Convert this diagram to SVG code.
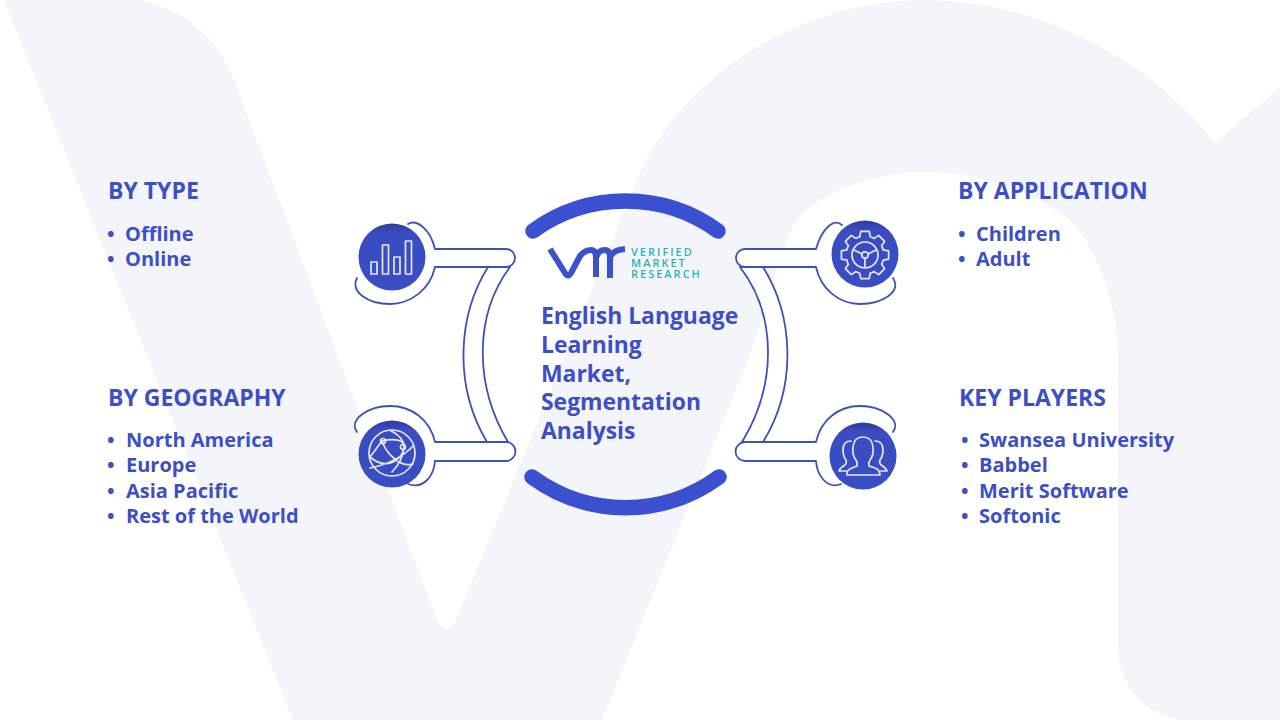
<svg xmlns="http://www.w3.org/2000/svg" width="1280" height="720" viewBox="0 0 1280 720">
<style>
text{font-family:"Open Sans","Noto Sans","Liberation Sans",sans-serif;fill:#3d4fc4;font-weight:700}
.h{font-size:23px}
.i{font-size:20px}
.t{font-size:22.9px}
.l{font-size:11px;fill:#27b5b8;font-weight:600;letter-spacing:2px}
.o{fill:#fff;stroke:#3f51b5;stroke-width:1.8;stroke-linejoin:round;stroke-linecap:round}
.ic{fill:none;stroke:#e4e8f9;stroke-width:1.7;stroke-linejoin:round;stroke-linecap:round}
.arc{fill:none;stroke:#3a50d0;stroke-width:15.5;stroke-linecap:round}
</style>
<defs>
<linearGradient id="dg" x1="0" y1="0" x2="0" y2="1"><stop offset="0" stop-color="#2c3aa0"/><stop offset=".14" stop-color="#3a4cc0"/><stop offset="1" stop-color="#3b4dc4"/></linearGradient>
<path id="tooth" d="M-5.2-18.3L-4.2-23.6H4.2L5.2-18.3A19 19 0 0 1 9.2-16.6"/>
</defs>
<path id="watermark" fill="#f4f5fb" d="M4 0H139C185 8 218 40 233 77L437 620Q447 636 456 620L640 173C690 65 810 0 925 0C1040 0 1150 60 1215 143L1280 87V720H1180C1145 715 1118 685 1118 647V360C1118 300 1095 245 1069 220C1030 188 975 172 926 172C880 172 830 188 803 213C780 235 765 318 748 360L602 720H293Z"/>
<g id="connectors">
<path class="o" d="M488 267C458 315 453 385 487 442H508C474 385 474 315 510 267Z"/>
<path class="o" d="M763 267C793 315 798 385 763 442H742C777 385 777 315 740 267Z"/>
</g>
<g id="node-type">
<path class="o" d="M408 224C416 219 430 228 435 249H506A9 9 0 0 1 506 267H435C430 290 410 304 390 304C368 304 350 292 357 278"/>
<circle cx="392" cy="257" r="33.5" fill="url(#dg)"/>
<g class="ic"><rect x="371" y="262" width="6" height="12"/><rect x="382.500" y="245" width="6" height="29"/><rect x="394" y="257" width="6" height="17"/><rect x="405.500" y="241" width="6" height="33"/></g>
<text class="h" x="108" y="199">BY TYPE</text>
<text class="i" x="107" y="241">•</text><text class="i" x="125" y="241">Offline</text>
<text class="i" x="107" y="266">•</text><text class="i" x="125" y="266">Online</text>
</g>
<g id="node-geography">
<path class="o" d="M357 432C348 420 368 406 390 406C412 406 430 420 435 442H506A9.500 9.500 0 0 1 506 461H435C434 475 424 490 408 484"/>
<circle cx="392" cy="454" r="33.5" fill="url(#dg)"/>
<g class="ic"><circle cx="392" cy="453" r="23"/><path d="M382 441L370 457M382 441C395 438 405 440 404 447C402 462 385 470 370 457M382 441C386 453 400 468 413 464M391 431C402 436 405 445 404 447C403 458 398 466 392 472M370 468C385 465 400 460 413 446"/><circle cx="383" cy="441" r="2.500"/><circle cx="403" cy="447" r="2.500"/></g>
<text class="h" x="108" y="406">BY GEOGRAPHY</text>
<text class="i" x="107" y="447">•</text><text class="i" x="126" y="447">North America</text>
<text class="i" x="107" y="472">•</text><text class="i" x="126" y="472">Europe</text>
<text class="i" x="107" y="498">•</text><text class="i" x="126" y="498">Asia Pacific</text>
<text class="i" x="107" y="523">•</text><text class="i" x="126" y="523">Rest of the World</text>
</g>
<g id="node-application">
<path class="o" d="M842 225C834 218 822 228 816 249H745A9 9 0 0 0 745 267H816C821 290 840 304 860 304C882 304 902 292 893 278"/>
<circle cx="865" cy="254" r="33.5" fill="url(#dg)"/>
<g class="ic" transform="translate(865 255)">
<use href="#tooth"/><use href="#tooth" transform="rotate(45)"/><use href="#tooth" transform="rotate(90)"/><use href="#tooth" transform="rotate(135)"/><use href="#tooth" transform="rotate(180)"/><use href="#tooth" transform="rotate(225)"/><use href="#tooth" transform="rotate(270)"/><use href="#tooth" transform="rotate(315)"/>
<circle r="13"/><path d="M-11-5L-3-1M11-5L3-1M0 3.500V12"/><circle r="3.200"/>
</g>
<text class="h" x="958" y="199">BY APPLICATION</text>
<text class="i" x="958" y="241">•</text><text class="i" x="976" y="241">Children</text>
<text class="i" x="958" y="266">•</text><text class="i" x="976" y="266">Adult</text>
</g>
<g id="node-players">
<path class="o" d="M893 432C902 420 882 406 860 406C838 406 821 420 816 442H745A9.500 9.500 0 0 0 745 461H816C817 475 827 490 841 484"/>
<circle cx="863" cy="456" r="33.5" fill="url(#dg)"/>
<g class="ic"><path d="M847 475V473Q847 470 852 468L857 466Q858 463 856 460Q852 455 853 447Q854 437 863 437Q872 437 873 447Q874 455 870 460Q868 463 869 466L875 468Q880 470 880 475Z"/><path d="M851 441Q843 441 843 450Q843 456 846 460Q847 463 845 465Q840 468 839 471H846M875 441Q883 441 883 450Q883 456 880 460Q879 463 881 465Q886 468 887 471H880"/></g>
<text class="h" x="959" y="406">KEY PLAYERS</text>
<text class="i" x="961" y="447">•</text><text class="i" x="979" y="447">Swansea University</text>
<text class="i" x="961" y="472">•</text><text class="i" x="979" y="472">Babbel</text>
<text class="i" x="961" y="498">•</text><text class="i" x="979" y="498">Merit Software</text>
<text class="i" x="961" y="523">•</text><text class="i" x="979" y="523">Softonic</text>
</g>
<g id="center">
<path class="arc" d="M533 231A158 158 0 0 1 718 231"/>
<path class="arc" d="M532 477A158 158 0 0 0 719 477"/>
<g fill="none" stroke="#3d51cc" stroke-width="6"><path d="M550 249L565 273Q568 278 571 273L580 256Q585 250 591 250Q596 250 596 258V277"/><path d="M596 258Q598 250 605 250Q610 250 610 258V278"/><path d="M610 258Q612 250 625 249"/></g>
<text class="l" x="631" y="255.500">VERIFIED</text>
<text class="l" x="631" y="266.500">MARKET</text>
<text class="l" x="631" y="278">RESEARCH</text>
<text class="t" x="541" y="324">English Language</text>
<text class="t" x="541" y="353">Learning</text>
<text class="t" x="541" y="382">Market,</text>
<text class="t" x="541" y="410">Segmentation</text>
<text class="t" x="541" y="439">Analysis</text>
</g>
</svg>
